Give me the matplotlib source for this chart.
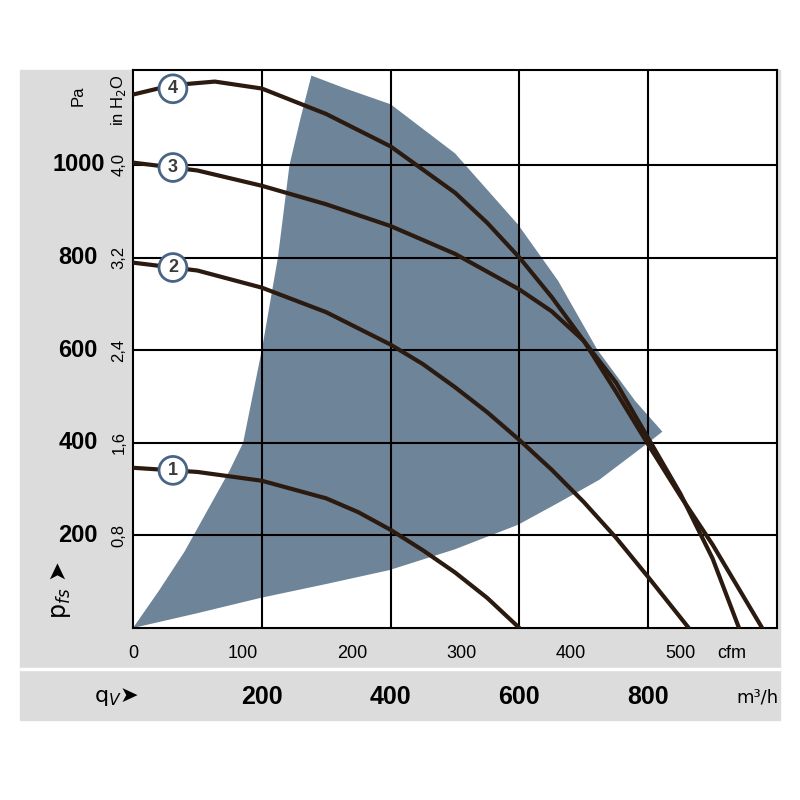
import matplotlib
matplotlib.use("Agg")
import matplotlib.pyplot as plt
from matplotlib.patches import Rectangle, Polygon

plt.rcParams['font.family'] = ['Liberation Sans Narrow', 'Liberation Sans', 'DejaVu Sans']

c1_q = [0, 100, 200, 300, 350, 400, 450, 500, 550, 600]
c1_p = [346, 337, 318, 280, 250, 212, 168, 120, 65, 0]
c2_q = [0, 100, 200, 300, 400, 450, 500, 550, 600, 650, 700, 750, 800, 863]
c2_p = [789, 772, 735, 682, 612, 570, 520, 466, 406, 342, 272, 195, 110, 0]
c3_q = [0, 100, 200, 300, 400, 500, 600, 650, 700, 750, 800, 850, 900, 941]
c3_p = [1005, 988, 955, 915, 868, 808, 731, 684, 620, 530, 410, 290, 150, 0]
c4_q = [0, 60, 127, 200, 300, 400, 500, 550, 600, 650, 700, 750, 800, 850, 900, 977]
c4_p = [1152, 1172, 1180, 1165, 1110, 1040, 940, 875, 800, 715, 620, 510, 396, 285, 180, 0]
curves = [(c1_q, c1_p, "1"), (c2_q, c2_p, "2"), (c3_q, c3_p, "3"), (c4_q, c4_p, "4")]
region_q = [0, 40, 80, 120, 150, 171, 200, 225, 243, 260, 277, 330, 400, 500, 598, 660, 721, 780, 822,
            800, 724, 660, 598, 500, 398, 300, 198, 100, 0]
region_p = [0, 80, 165, 265, 340, 400, 600, 800, 1000, 1100, 1193, 1165, 1131, 1025, 871, 750, 601, 490, 424,
            400, 320, 270, 223, 170, 125, 95, 65, 32, 0]
pa_ticks = [200, 400, 600, 800, 1000]
inh2o_labels = ["0,8", "1,6", "2,4", "3,2", "4,0"]
cfm_ticks = [0, 100, 200, 300, 400, 500]
m3h_ticks = [200, 400, 600, 800]

fig = plt.figure(figsize=(8, 8), dpi=100)
fig.add_artist(Rectangle((20/800, 80/800), 760/800, 650/800, transform=fig.transFigure,
                         color="#dcdcdd", zorder=0))
fig.add_artist(Rectangle((20/800, 130/800), 760/800, 2/800, transform=fig.transFigure,
                         color="white", zorder=1))
ax = fig.add_axes([133/800, 172/800, 644/800, 558/800])
ax.set_xlim(0, 1000)
ax.set_ylim(0, 1205)
ax.set_facecolor("white")
ax.add_patch(Polygon(list(zip(region_q, region_p)), closed=True, color="#6e8499", lw=0, zorder=1))
for x in m3h_ticks:
    ax.axvline(x, color="black", lw=1.5, zorder=2)
for y in pa_ticks:
    ax.axhline(y, color="black", lw=1.5, zorder=2)
for q, p, lab in curves:
    ax.plot(q, p, color="#2b1a10", lw=3, zorder=3, solid_capstyle="round", solid_joinstyle="round")
    ax.text(62, p[0] - (p[0]-p[1]) * 0.62, lab, ha="center", va="center", fontsize=13,
            fontweight="bold", color="#3a3a3a", zorder=5,
            bbox=dict(boxstyle="circle,pad=0.3", fc="white", ec="#4a6584", lw=2))
ax.set_xticks([]); ax.set_yticks([])
for s in ax.spines.values():
    s.set_linewidth(1.5)

for v, l in zip(pa_ticks, inh2o_labels):
    ax.text(-85, v, str(v), ha="center", va="center", fontsize=17, fontweight="bold")
    ax.text(-22, v, l, ha="center", va="center", fontsize=12, rotation=90)
ax.text(-85, 1150, "Pa", ha="center", va="center", fontsize=12, rotation=90)
ax.text(-22, 1140, "in H$_2$O", ha="center", va="center", fontsize=12, rotation=90)
ax.text(-113, 20, "p$_{fs}$ ➤", ha="center", va="bottom", fontsize=17, rotation=90,
        family=['DejaVu Sans'])
for c in cfm_ticks:
    ax.text(c * 1.699, -55, str(c), ha="center", va="center", fontsize=13)
ax.text(930, -55, "cfm", ha="center", va="center", fontsize=13)
for m in m3h_ticks:
    ax.text(m, -150, str(m), ha="center", va="center", fontsize=18, fontweight="bold")
ax.text(970, -150, "m³/h", ha="center", va="center", fontsize=13, family=['DejaVu Sans'])
ax.text(-25, -150, "q$_V$➤", ha="center", va="center", fontsize=16, family=['DejaVu Sans'])
fig.savefig("out.png", dpi=100)
